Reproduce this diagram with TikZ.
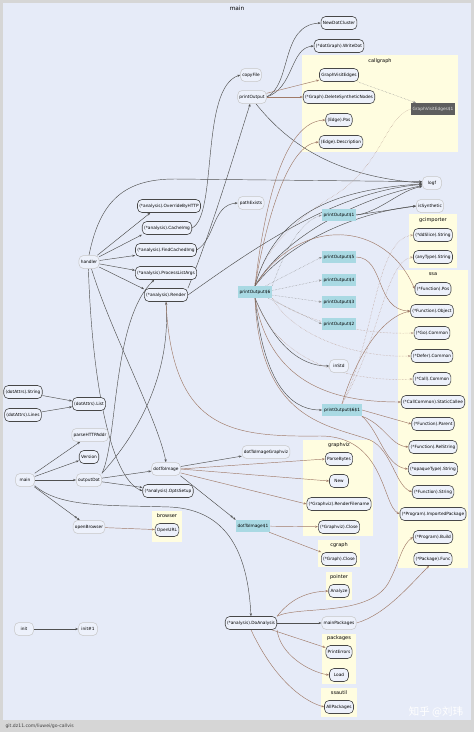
\documentclass[tikz,border=0pt]{standalone}
\usepackage{fontspec}
\setmainfont{DejaVu Sans}
\newfontfamily\cjkfont{Noto Sans CJK SC}
\usetikzlibrary{arrows.meta, positioning}
\definecolor{pagegray}{HTML}{D6D6D6}
\definecolor{mainblue}{HTML}{E6EBF8}
\definecolor{nodeblue}{HTML}{EDF1FB}
\definecolor{pkgyellow}{HTML}{FFFDE0}
\definecolor{anonblue}{HTML}{A9D9E3}
\definecolor{anongray}{HTML}{5E5E5E}
\definecolor{edgegray}{HTML}{505050}
\definecolor{edgebrown}{HTML}{A07A68}
\pgfdeclarelayer{frames}
\pgfdeclarelayer{edges}
\pgfsetlayers{frames,edges,main}

\begin{document}
\begin{tikzpicture}[x=1pt, y=-1pt,
    font=\fontsize{4.3}{5}\selectfont,
    fn/.style={rectangle, rounded corners=4.5pt, draw=black!22, fill=nodeblue, line width=0.5pt, minimum height=13pt, minimum width=19pt, inner xsep=1.8pt, inner ysep=0pt},
    xfn/.style={fn, draw=black!72, line width=0.6pt},
    anon/.style={rectangle, fill=anonblue, minimum height=12pt, inner xsep=1.8pt, inner ysep=0pt},
    anonx/.style={anon, fill=anongray, text=black!12},
    pkgname/.style={font=\fontsize{5}{6}\selectfont},
    call/.style={draw=edgegray, line width=0.45pt, -{Stealth[length=3pt,width=2.2pt]}},
    xcall/.style={call, draw=edgebrown},
    dyn/.style={call, densely dotted, draw=black!45},
    xdyn/.style={dyn, draw=edgebrown!75},
    gocall/.style={call, -{Circle[open,length=2.2pt,sep=1pt]Stealth[length=3pt,width=2.2pt]}},
    defercall/.style={call, -{Diamond[open,length=2.6pt,width=2pt,sep=1pt]Stealth[length=3pt,width=2.2pt]}}
]
\useasboundingbox (0,0) rectangle (474,732);

% page and package frames
\begin{pgfonlayer}{frames}
\fill[pagegray] (0,0) rectangle (474,732);
\fill[mainblue] (3,3) rectangle (471,720);
\fill[pkgyellow] (302,55) rectangle (458,152);
\fill[pkgyellow] (409,214) rectangle (457,268);
\fill[pkgyellow] (398,270) rectangle (468,568);
\fill[pkgyellow] (303,440) rectangle (373,536);
\fill[pkgyellow] (152,511) rectangle (182,542);
\fill[pkgyellow] (318,540) rectangle (360,567);
\fill[pkgyellow] (326,572) rectangle (352,600);
\fill[pkgyellow] (322,634) rectangle (356,684);
\fill[pkgyellow] (321,688) rectangle (357,717);
\end{pgfonlayer}

\node[font=\fontsize{5.8}{7}\selectfont] (mainlbl) at (237,8) {main};
\node[pkgname] (callgraphlbl) at (380,61) {callgraph};
\node[pkgname] (gcimporterlbl) at (433,220) {gcimporter};
\node[pkgname] (ssalbl) at (433,274) {ssa};
\node[pkgname] (graphvizlbl) at (339,445) {graphviz};
\node[pkgname] (browserlbl) at (167,516) {browser};
\node[pkgname] (cgraphlbl) at (339,545) {cgraph};
\node[pkgname] (pointerlbl) at (339,577) {pointer};
\node[pkgname] (packageslbl) at (339,638) {packages};
\node[pkgname] (ssautillbl) at (339,693) {ssautil};

% main package
\node[fn] (copyFile) at (251,75) {copyFile};
\node[fn] (printOutput) at (252,97) {printOutput};
\node[fn] (logf) at (432,183) {logf};
\node[fn] (isSynthetic) at (430,206) {isSynthetic};
\node[fn] (pathExists) at (251,203) {pathExists};
\node[fn] (inStd) at (339,366) {inStd};
\node[fn] (handler) at (89,262) {handler};
\node[xfn] (OverrideByHTTP) at (169,206) {(*analysis).OverrideByHTTP};
\node[xfn] (CacheImg) at (167,228) {(*analysis).CacheImg};
\node[xfn] (FindCachedImg) at (166,250) {(*analysis).FindCachedImg};
\node[xfn] (ProcessListArgs) at (166,273) {(*analysis).ProcessListArgs};
\node[xfn] (Render) at (166,295) {(*analysis).Render};
\node[xfn] (dotAttrsString) at (23,392) {(dotAttrs).String};
\node[xfn] (dotAttrsLines) at (23,415) {(dotAttrs).Lines};
\node[xfn] (dotAttrsList) at (89,404) {(dotAttrs).List};
\node[fn] (parseHTTPAddr) at (90,435) {parseHTTPAddr};
\node[xfn] (Version) at (89,457) {Version};
\node[fn] (mainfn) at (25,480) {main};
\node[fn] (outputDot) at (89,480) {outputDot};
\node[fn] (dotToImage) at (166,469) {dotToImage};
\node[xfn] (OptsSetup) at (168,491) {(*analysis).OptsSetup};
\node[fn] (openBrowser) at (89,527) {openBrowser};
\node[fn] (dotToImageGraphviz) at (266,452) {dotToImageGraphviz};
\node[xfn] (DoAnalysis) at (251,623) {(*analysis).DoAnalysis};
\node[fn] (mainPackages) at (339,623) {mainPackages};
\node[fn] (initfn) at (24,629) {init};
\node[fn] (initone) at (88,629) {init\#1};

% closures
\node[anon] (po1) at (339,215) {printOutput\$1};
\node[anon] (po5) at (339,257) {printOutput\$5};
\node[anon] (po4) at (339,280) {printOutput\$4};
\node[anon] (po3) at (339,302) {printOutput\$3};
\node[anon] (po2) at (339,324) {printOutput\$2};
\node[anon] (po6) at (255,292) {printOutput\$6};
\node[anon] (po61) at (342,410) {printOutput\$6\$1};
\node[anon] (dotToImage1) at (253,526) {dotToImage\$1};

% other packages
\node[xfn] (NewDotCluster) at (339,23) {NewDotCluster};
\node[xfn] (WriteDot) at (339,46) {(*dotGraph).WriteDot};
\node[xfn] (GraphVisitEdges) at (339,75) {GraphVisitEdges};
\node[xfn] (DeleteSyntheticNodes) at (339,97) {(*Graph).DeleteSyntheticNodes};
\node[anonx] (GVEone) at (433,109) {GraphVisitEdges\$1};
\node[xfn] (EdgePos) at (339,120) {(Edge).Pos};
\node[xfn] (EdgeDescription) at (341,142) {(Edge).Description};
\node[xfn] (ddSlice) at (433,235) {(*ddSlice).String};
\node[xfn] (anyType) at (433,257) {(anyType).String};
\node[xfn] (FuncPos) at (433,289) {(*Function).Pos};
\node[xfn] (FuncObject) at (432,311) {(*Function).Object};
\node[xfn] (GoCommon) at (432,333) {(*Go).Common};
\node[xfn] (DeferCommon) at (432,356) {(*Defer).Common};
\node[xfn] (CallCommon) at (432,379) {(*Call).Common};
\node[xfn] (StaticCallee) at (433,402) {(*CallCommon).StaticCallee};
\node[xfn] (FuncParent) at (433,424) {(*Function).Parent};
\node[xfn] (RelString) at (433,447) {(*Function).RelString};
\node[xfn] (opaqueString) at (433,469) {(*opaqueType).String};
\node[xfn] (FuncString) at (433,492) {(*Function).String};
\node[xfn] (ImportedPackage) at (433,514) {(*Program).ImportedPackage};
\node[xfn] (ProgBuild) at (433,537) {(*Program).Build};
\node[xfn] (PkgFunc) at (433,559) {(*Package).Func};
\node[xfn] (ParseBytes) at (339,459) {ParseBytes};
\node[xfn] (New) at (339,481) {New};
\node[xfn] (RenderFilename) at (339,504) {(*Graphviz).RenderFilename};
\node[xfn] (GraphvizClose) at (339,527) {(*Graphviz).Close};
\node[xfn] (OpenURL) at (167,530) {OpenURL};
\node[xfn] (GraphClose) at (339,559) {(*Graph).Close};
\node[xfn] (Analyze) at (339,591) {Analyze};
\node[xfn] (PrintErrors) at (339,652) {PrintErrors};
\node[xfn] (Load) at (339,675) {Load};
\node[xfn] (AllPackages) at (339,707) {AllPackages};

\node[anchor=west, font=\fontsize{4.6}{5}\selectfont, text=black!75] (footer) at (2,726) {git.dz11.com/liuwei/go-callvis};
\node[text=white, font=\cjkfont\fontsize{10.5}{12}\selectfont] (watermark) at (436,712) {知乎 @刘玮};

\begin{pgfonlayer}{edges}
% main
\draw[call] (mainfn) -- (parseHTTPAddr);
\draw[call] (mainfn) -- (Version);
\draw[call] (mainfn) -- (outputDot);
\draw[gocall] (mainfn) -- (openBrowser);
\draw[call] (mainfn.-30) .. controls (60,508) and (110,505) .. (170,507) .. controls (232,510) and (248,560) .. (DoAnalysis.north);
\draw[xcall] (openBrowser) -- (OpenURL);
\draw[call] (dotAttrsString) -- (dotAttrsList);
\draw[call] (dotAttrsLines) -- (dotAttrsList);
\draw[call] (initfn) -- (initone);
% outputDot
\draw[call] (outputDot) -- (dotToImage);
\draw[call] (outputDot) -- (OptsSetup);
\draw[call] (outputDot.north east) .. controls (118,440) and (112,320) .. (ProcessListArgs.-150);
\draw[call] (outputDot.north east) .. controls (150,420) and (170,360) .. (Render.south);
% handler
\draw[call] (handler) -- (OverrideByHTTP.-160);
\draw[call] (handler) -- (CacheImg.-165);
\draw[call] (handler) -- (FindCachedImg.-170);
\draw[call] (handler) -- (ProcessListArgs.175);
\draw[call] (handler) -- (Render.165);
\draw[call] (handler.north) .. controls (100,200) and (125,179) .. (175,179) -- (logf.172);
\draw[call] (handler.-95) .. controls (92,380) and (110,478) .. (OptsSetup.west);
\draw[call] (handler.-70) .. controls (110,330) and (158,420) .. (dotToImage.north);
\draw[call] (CacheImg.east) .. controls (218,215) and (200,88) .. (copyFile.west);
\draw[call] (FindCachedImg.east) .. controls (216,238) and (212,205) .. (pathExists.west);
\draw[call] (Render.east) .. controls (245,255) and (330,192) .. (logf.188);
\draw[call] (Render.north east) .. controls (212,230) and (240,135) .. (printOutput.-105);
\draw[xcall] (Render.south) .. controls (172,430) and (230,437) .. (320,436) .. controls (385,436) and (382,505) .. (ImportedPackage.west);
% printOutput
\draw[call] (printOutput.east) .. controls (292,85) and (280,25) .. (NewDotCluster.west);
\draw[call] (printOutput.east) .. controls (294,88) and (290,48) .. (WriteDot.west);
\draw[xcall] (printOutput) -- (GraphVisitEdges);
\draw[xcall] (printOutput) -- (DeleteSyntheticNodes);
\draw[call] (printOutput.-60) .. controls (285,140) and (330,176) .. (logf.180);
\draw[dyn] (GraphVisitEdges) -- (GVEone);
\draw[xdyn] (GVEone.west) .. controls (385,118) and (382,165) .. (335,195) .. controls (290,222) and (262,255) .. (po6.north);
% printOutput$6
\draw[xcall] (po6.north) .. controls (265,200) and (285,122) .. (EdgePos.west);
\draw[xcall] (po6.north) .. controls (268,210) and (290,145) .. (EdgeDescription.west);
\draw[call] (po6.north) .. controls (275,215) and (330,190) .. (logf.185);
\draw[call] (po6.north) .. controls (285,235) and (360,198) .. (logf.195);
\draw[call] (po6.north) .. controls (290,240) and (360,212) .. (isSynthetic.west);
\draw[xcall] (po6.north) .. controls (300,215) and (385,220) .. (FuncPos.west);
\draw[dyn] (po6.north east) .. controls (285,250) and (300,222) .. (po1.west);
\draw[dyn] (po6.30) -- (po5.west);
\draw[dyn] (po6.5) -- (po4.west);
\draw[dyn] (po6.-10) -- (po3.west);
\draw[dyn] (po6.-25) -- (po2.west);
\draw[xdyn] (po6.south east) .. controls (300,320) and (360,335) .. (GoCommon.west);
\draw[xdyn] (po6.south east) .. controls (295,338) and (360,358) .. (DeferCommon.west);
\draw[call] (po6.south) .. controls (275,345) and (300,366) .. (inStd.west);
\draw[xdyn] (po6.south) .. controls (280,368) and (360,382) .. (CallCommon.west);
\draw[xcall] (po6.south) .. controls (270,388) and (340,402) .. (StaticCallee.west);
\draw[call] (po6.south) .. controls (265,398) and (300,410) .. (po61.west);
\draw[xcall] (po6.south) .. controls (260,422) and (330,425) .. (370,440) .. controls (392,450) and (395,485) .. (FuncString.west);
% printOutput$1, $5, $6$1
\draw[call] (po1.east) .. controls (380,212) and (400,190) .. (logf.200);
\draw[call] (po1.east) -- (isSynthetic.west);
\draw[xcall] (po5.east) .. controls (385,258) and (375,310) .. (FuncObject.west);
\draw[xcall] (po61.north) .. controls (355,360) and (380,318) .. (FuncObject.west);
\draw[xdyn] (po61.north) .. controls (375,340) and (375,240) .. (ddSlice.west);
\draw[xdyn] (po61.north) .. controls (380,340) and (385,262) .. (anyType.west);
\draw[xcall] (po61.east) -- (FuncParent.west);
\draw[xcall] (po61.south east) .. controls (385,425) and (390,445) .. (RelString.west);
\draw[xcall] (po61.south east) .. controls (380,432) and (385,466) .. (opaqueString.west);
% dotToImage
\draw[call] (dotToImage) -- (dotToImageGraphviz);
\draw[xcall] (dotToImage.east) -- (ParseBytes.west);
\draw[xcall] (dotToImage.east) -- (New.west);
\draw[xcall] (dotToImage.-15) -- (RenderFilename.west);
\draw[defercall] (dotToImage.-25) -- (dotToImage1.north west);
\draw[xcall] (dotToImage1) -- (GraphvizClose);
\draw[xcall] (dotToImage1) -- (GraphClose);
% DoAnalysis
\draw[xcall] (DoAnalysis.north east) .. controls (290,600) and (305,592) .. (Analyze.west);
\draw[call] (DoAnalysis) -- (mainPackages);
\draw[xcall] (DoAnalysis.north east) .. controls (300,605) and (372,618) .. (390,580) .. controls (400,560) and (402,545) .. (ProgBuild.west);
\draw[xcall] (DoAnalysis) -- (PrintErrors);
\draw[xcall] (DoAnalysis.south east) .. controls (280,655) and (310,672) .. (Load.west);
\draw[xcall] (DoAnalysis.south) .. controls (272,675) and (300,700) .. (AllPackages.west);
\draw[xcall] (mainPackages.east) .. controls (385,615) and (410,585) .. (PkgFunc.-120);
\end{pgfonlayer}
\end{tikzpicture}
\end{document}
